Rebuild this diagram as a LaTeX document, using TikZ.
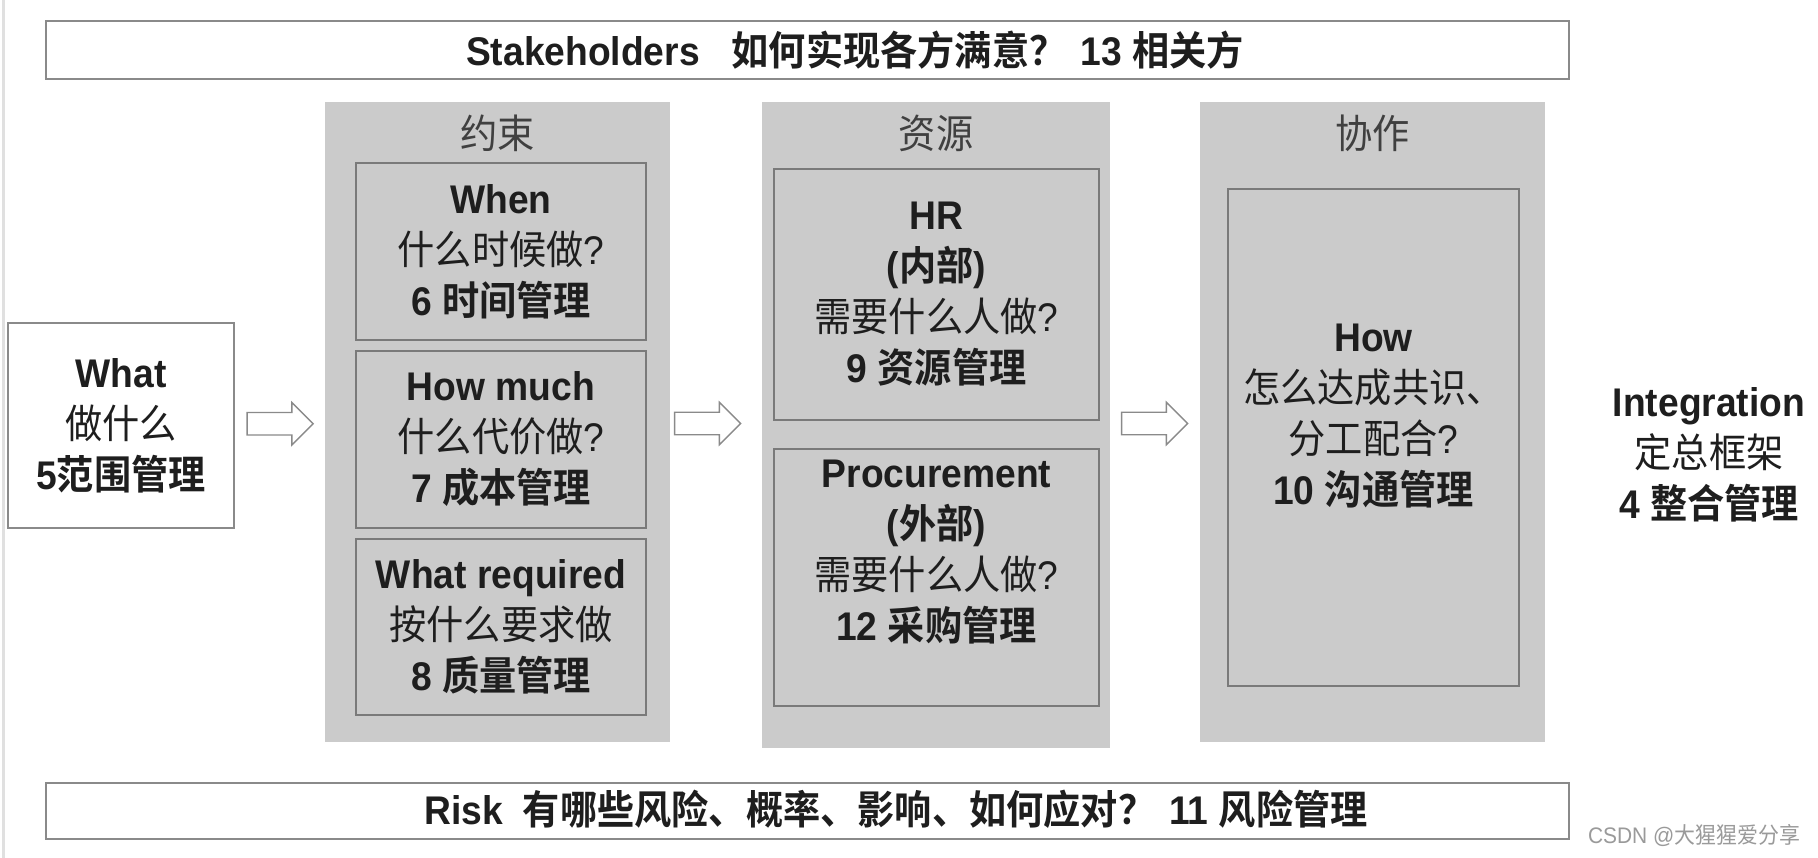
\documentclass[tikz,border=0pt]{standalone}
\usepackage{fontspec}
\setmainfont{Liberation Sans}[FakeStretch=0.93]
\newfontfamily\cjk{Noto Sans CJK SC}[FakeStretch=0.93, BoldFont={Noto Sans CJK SC Bold}]
\usetikzlibrary{shapes.arrows,calc}
\newcommand\zh[1]{{\cjk #1}}
\definecolor{colgray}{HTML}{CBCBCB}
\definecolor{edgegray}{HTML}{8A8A8A}
\definecolor{boxedge}{HTML}{7A7A7A}
\definecolor{txt}{HTML}{1E1E1E}
\definecolor{wmark}{HTML}{9A9A9A}
\begin{document}
\begin{tikzpicture}[x=1pt,y=-1pt,
  every node/.style={inner sep=0pt, outer sep=0pt},
  frame/.style={draw=edgegray, line width=1.8pt, fill=white, rectangle},
  column/.style={fill=colgray, rectangle},
  inbox/.style={draw=boxedge, line width=1.6pt, fill=colgray, rectangle},
  lbl/.style={align=center, text=txt, font=\fontsize{40}{51}\selectfont},
  coltitle/.style={text=txt!85, font=\fontsize{40}{51}\selectfont\cjk},
  blockarrow/.style={single arrow, draw=edgegray, line width=1.4pt, fill=white,
    minimum height=66pt, minimum width=41pt, single arrow head extend=10pt,
    inner xsep=0pt, inner ysep=10.5pt},
]
\useasboundingbox (0,0) rectangle (1818,858);
\fill[white] (0,0) rectangle (1818,858);
\fill[black!12] (2,0) rectangle (5,858);

% outer frames
\node[frame, minimum width=1523pt, minimum height=58pt] (stake) at (807.5,50) {};
\node[frame, minimum width=1523pt, minimum height=56pt] (risk) at (807.5,811) {};
\node[frame, minimum width=226pt, minimum height=205pt] (what) at (121,425.5) {};

% columns
\node[column, minimum width=345pt, minimum height=640pt] (c1) at (497.5,422) {};
\node[column, minimum width=348pt, minimum height=646pt] (c2) at (936,425) {};
\node[column, minimum width=345pt, minimum height=640pt] (c3) at (1372.5,422) {};

% inner boxes
\node[inbox, minimum width=290pt, minimum height=177pt] (b1) at (501,251.5) {};
\node[inbox, minimum width=290pt, minimum height=177pt] (b2) at (501,439.5) {};
\node[inbox, minimum width=290pt, minimum height=176pt] (b3) at (501,627) {};
\node[inbox, minimum width=325pt, minimum height=251pt] (hr) at (936.5,294.5) {};
\node[inbox, minimum width=325pt, minimum height=257pt] (proc) at (936.5,577.5) {};
\node[inbox, minimum width=291pt, minimum height=497pt] (how) at (1373.5,437.5) {};

% column titles
\node[coltitle] (t1) at ($(c1.north)+(0,31)$) {约束};
\node[coltitle] (t2) at ($(c2.north)+(0,31)$) {资源};
\node[coltitle] (t3) at ($(c3.north)+(0,31)$) {协作};

% texts
\node[lbl] (stxt) at (855,50) {\textbf{Stakeholders\hspace{0.8em}\zh{如何实现各方满意？}\hspace{0.35em}13 \zh{相关方}}};
\node[lbl] (rtxt) at (896,809) {\textbf{Risk\hspace{0.5em}\zh{有哪些风险、概率、影响、如何应对？}\hspace{0.35em}11 \zh{风险管理}}};
\node[lbl] (wtxt) at (what) {\textbf{What}\\\zh{做什么}\\\textbf{5\zh{范围管理}}};
\node[lbl] (b1t) at (b1) {\textbf{When}\\\zh{什么时候做}?\\\textbf{6 \zh{时间管理}}};
\node[lbl] (b2t) at (b2) {\textbf{How much}\\\zh{什么代价做}?\\\textbf{7 \zh{成本管理}}};
\node[lbl] (b3t) at (b3) {\textbf{What required}\\\zh{按什么要求做}\\\textbf{8 \zh{质量管理}}};
\node[lbl] (hrt) at (hr) {\textbf{HR}\\\textbf{(\zh{内部})}\\\zh{需要什么人做}?\\\textbf{9 \zh{资源管理}}};
\node[lbl] (proct) at ($(proc)+(0,-25)$) {\textbf{Procurement}\\\textbf{(\zh{外部})}\\\zh{需要什么人做}?\\\textbf{12 \zh{采购管理}}};
\node[lbl] (howt) at ($(how)+(0,-21)$) {\textbf{How}\\\zh{怎么达成共识、}\\\zh{分工配合}?\\\textbf{10 \zh{沟通管理}}};
\node[lbl] (integ) at (1709,454.5) {\textbf{Integration}\\\zh{定总框架}\\\textbf{4 \zh{整合管理}}};

% block arrows
\node[blockarrow] (a1) at ($(what.east)!0.5!(c1.west)+(-5,0)$) {};
\node[blockarrow] (a2) at ($(c1.east)!0.5!(c2.west)+(-14,0)$) {};
\node[blockarrow] (a3) at ($(c2.east)!0.5!(c3.west)+(-6,0)$) {};

% watermark
\node[text=wmark, font=\fontsize{22.5}{26}\selectfont] (wm) at (1694,836) {CSDN @\zh{大猩猩爱分享}};
\end{tikzpicture}
\end{document}
